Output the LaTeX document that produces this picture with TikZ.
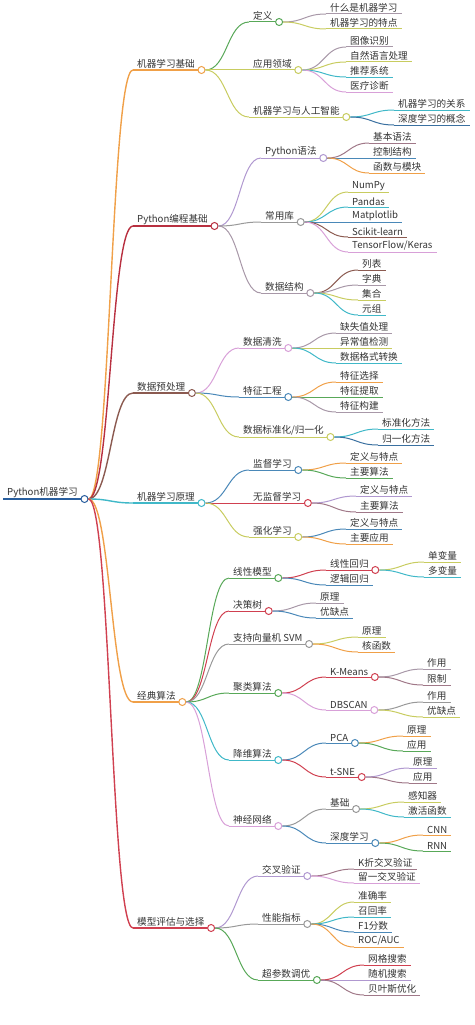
\documentclass[tikz,border=0pt]{standalone}
\usepackage{fontspec}
\setmainfont{Noto Sans CJK SC}
\usetikzlibrary{calc}
% Farben
\definecolor{txt}{HTML}{333333}
\definecolor{wurzel}{HTML}{2A5F9E}
\definecolor{orng}{HTML}{F0A048}
\definecolor{dred}{HTML}{B83040}
\definecolor{rot}{HTML}{D04050}
\definecolor{brwn}{HTML}{8B5A50}
\definecolor{cyan}{HTML}{40B8C8}
\definecolor{grn}{HTML}{58A858}
\definecolor{ylw}{HTML}{C8CC60}
\definecolor{gpur}{HTML}{A898A8}
\definecolor{blau}{HTML}{4A88B8}
\definecolor{dblu}{HTML}{3A70A0}
\definecolor{purp}{HTML}{B098D0}
\definecolor{pink}{HTML}{D8A0D8}
\definecolor{grau}{HTML}{999999}
\definecolor{mauv}{HTML}{A07888}
\tikzset{
  thema/.style={anchor=south west, inner xsep=4pt, inner ysep=1.2pt, text=txt,
    font=\fontsize{9.6}{11}\selectfont},
  linie/.style={line width=1pt},
  haupt/.style={line width=1.4pt},
  knopf/.style={circle, draw=#1, fill=white, line width=1pt, minimum size=7pt, inner sep=0pt}
}
% #1 Elternknoten, #2 Name, #3 x (Textanfang), #4 y, #5 Farbe, #6 Text
\newcommand{\zweig}[6]{%
  \node[thema] (#2) at ({#3-4},#4) {#6};
  \draw[linie, #5] (#2.south west) -- (#2.south east);
  \draw[linie, #5] let \p1=(#1-k.east), \p2=(#2.south west) in
    (\p1) .. controls ({(\x1+\x2)/2},\y1) and ({(\x1+\x2)/2},\y2) .. (\p2);
}
\newcommand{\knopf}[2]{\node[knopf=#2] (#1-k) at ([xshift=2.5pt]#1.south east) {};}
\begin{document}
\begin{tikzpicture}[x=1pt, y=-1pt]
  \useasboundingbox (0,0) rectangle (474,1025);
  % Wurzel
  \node[thema] (root) at (3,499) {Python机器学习};
  \draw[wurzel, line width=2.5pt] (root.south west) -- (root.south east);
  \knopf{root}{wurzel}
  % Hauptaeste
  \zweig{root}{A}{137}{70}{orng,haupt}{机器学习基础}\knopf{A}{orng}
  \zweig{root}{B}{137}{226}{dred,haupt}{Python编程基础}\knopf{B}{dred}
  \zweig{root}{C}{137}{393}{brwn,haupt}{数据预处理}\knopf{C}{brwn}
  \zweig{root}{D}{137}{503}{cyan,haupt}{机器学习原理}\knopf{D}{cyan}
  \zweig{root}{E}{137}{702}{orng,haupt}{经典算法}\knopf{E}{orng}
  \zweig{root}{F}{137}{928}{rot,haupt}{模型评估与选择}\knopf{F}{rot}
  % Maschinelles Lernen Grundlagen
  \zweig{A}{A1}{253}{22}{grn}{定义}\knopf{A1}{grn}
  \zweig{A}{A2}{253}{70}{ylw}{应用领域}\knopf{A2}{ylw}
  \zweig{A}{A3}{253}{117}{ylw}{机器学习与人工智能}\knopf{A3}{ylw}
  \zweig{A1}{A1a}{330}{14}{gpur}{什么是机器学习}
  \zweig{A1}{A1b}{330}{29}{ylw}{机器学习的特点}
  \zweig{A2}{A2a}{350}{47}{gpur}{图像识别}
  \zweig{A2}{A2b}{350}{62}{ylw}{自然语言处理}
  \zweig{A2}{A2c}{350}{77}{cyan}{推荐系统}
  \zweig{A2}{A2d}{350}{92}{pink}{医疗诊断}
  \zweig{A3}{A3a}{398}{110}{cyan}{机器学习的关系}
  \zweig{A3}{A3b}{398}{125}{dblu}{深度学习的概念}
  % Python Grundlagen
  \zweig{B}{B1}{265}{158}{purp}{Python语法}\knopf{B1}{purp}
  \zweig{B}{B2}{265}{222}{grau}{常用库}\knopf{B2}{grau}
  \zweig{B}{B3}{265}{293}{gpur}{数据结构}\knopf{B3}{gpur}
  \zweig{B1}{B1a}{373}{143}{mauv}{基本语法}
  \zweig{B1}{B1b}{373}{158}{blau}{控制结构}
  \zweig{B1}{B1c}{373}{173}{orng}{函数与模块}
  \zweig{B2}{B2a}{352}{192}{ylw}{NumPy}
  \zweig{B2}{B2b}{352}{207}{cyan}{Pandas}
  \zweig{B2}{B2c}{352}{222}{blau}{Matplotlib}
  \zweig{B2}{B2d}{352}{237}{brwn}{Scikit-learn}
  \zweig{B2}{B2e}{352}{252}{pink}{TensorFlow/Keras}
  \zweig{B3}{B3a}{362}{270}{brwn}{列表}
  \zweig{B3}{B3b}{362}{285}{gpur}{字典}
  \zweig{B3}{B3c}{362}{300}{ylw}{集合}
  \zweig{B3}{B3d}{362}{315}{cyan}{元组}
  % Datenvorverarbeitung
  \zweig{C}{C1}{243}{348}{pink}{数据清洗}\knopf{C1}{pink}
  \zweig{C}{C2}{243}{397}{blau}{特征工程}\knopf{C2}{blau}
  \zweig{C}{C3}{243}{437}{ylw}{数据标准化/归一化}\knopf{C3}{ylw}
  \zweig{C1}{C1a}{340}{333}{gpur}{缺失值处理}
  \zweig{C1}{C1b}{340}{348}{ylw}{异常值检测}
  \zweig{C1}{C1c}{340}{363}{cyan}{数据格式转换}
  \zweig{C2}{C2a}{340}{382}{orng}{特征选择}
  \zweig{C2}{C2b}{340}{397}{grn}{特征提取}
  \zweig{C2}{C2c}{340}{412}{gpur}{特征构建}
  \zweig{C3}{C3a}{382}{429}{cyan}{标准化方法}
  \zweig{C3}{C3b}{382}{445}{dblu}{归一化方法}
  % Prinzipien
  \zweig{D}{D1}{253}{470}{blau}{监督学习}\knopf{D1}{blau}
  \zweig{D}{D2}{253}{503}{rot}{无监督学习}\knopf{D2}{rot}
  \zweig{D}{D3}{253}{537}{ylw}{强化学习}\knopf{D3}{ylw}
  \zweig{D1}{D1a}{350}{463}{orng}{定义与特点}
  \zweig{D1}{D1b}{350}{478}{grn}{主要算法}
  \zweig{D2}{D2a}{360}{496}{purp}{定义与特点}
  \zweig{D2}{D2b}{360}{512}{mauv}{主要算法}
  \zweig{D3}{D3a}{350}{529}{blau}{定义与特点}
  \zweig{D3}{D3b}{350}{544}{orng}{主要应用}
  % Klassische Algorithmen
  \zweig{E}{E1}{233}{578}{grn}{线性模型}\knopf{E1}{grn}
  \zweig{E}{E2}{233}{611}{rot}{决策树}\knopf{E2}{rot}
  \zweig{E}{E3}{233}{644}{grau}{支持向量机 SVM}\knopf{E3}{grau}
  \zweig{E}{E4}{233}{693}{grn}{聚类算法}\knopf{E4}{grn}
  \zweig{E}{E5}{233}{760}{cyan}{降维算法}\knopf{E5}{cyan}
  \zweig{E}{E6}{233}{826}{pink}{神经网络}\knopf{E6}{pink}
  \zweig{E1}{E1a}{330}{570}{rot}{线性回归}\knopf{E1a}{rot}
  \zweig{E1}{E1b}{330}{585}{blau}{逻辑回归}
  \zweig{E1a}{E1a1}{428}{562}{ylw}{单变量}
  \zweig{E1a}{E1a2}{428}{577}{cyan}{多变量}
  \zweig{E2}{E2a}{320}{603}{gpur}{原理}
  \zweig{E2}{E2b}{320}{618}{blau}{优缺点}
  \zweig{E3}{E3a}{362}{637}{ylw}{原理}
  \zweig{E3}{E3b}{362}{652}{orng}{核函数}
  \zweig{E4}{E4a}{330}{677}{rot}{K-Means}\knopf{E4a}{rot}
  \zweig{E4}{E4b}{330}{710}{pink}{DBSCAN}\knopf{E4b}{pink}
  \zweig{E4a}{E4a1}{427}{669}{gpur}{作用}
  \zweig{E4a}{E4a2}{427}{685}{mauv}{限制}
  \zweig{E4b}{E4b1}{427}{702}{grau}{作用}
  \zweig{E4b}{E4b2}{427}{717}{ylw}{优缺点}
  \zweig{E5}{E5a}{330}{743}{blau}{PCA}\knopf{E5a}{blau}
  \zweig{E5}{E5b}{330}{777}{rot}{t-SNE}\knopf{E5b}{rot}
  \zweig{E5a}{E5a1}{407}{736}{orng}{原理}
  \zweig{E5a}{E5a2}{407}{751}{grn}{应用}
  \zweig{E5b}{E5b1}{413}{768}{purp}{原理}
  \zweig{E5b}{E5b2}{413}{783}{mauv}{应用}
  \zweig{E6}{E6a}{330}{809}{grau}{基础}\knopf{E6a}{grau}
  \zweig{E6}{E6b}{330}{843}{blau}{深度学习}\knopf{E6b}{blau}
  \zweig{E6a}{E6a1}{408}{802}{ylw}{感知器}
  \zweig{E6a}{E6a2}{408}{817}{cyan}{激活函数}
  \zweig{E6b}{E6b1}{427}{835}{orng}{CNN}
  \zweig{E6b}{E6b2}{427}{851}{grn}{RNN}
  % Modellbewertung
  \zweig{F}{F1}{262}{876}{purp}{交叉验证}\knopf{F1}{purp}
  \zweig{F}{F2}{262}{924}{grau}{性能指标}\knopf{F2}{grau}
  \zweig{F}{F3}{262}{980}{grn}{超参数调优}\knopf{F3}{grn}
  \zweig{F1}{F1a}{358}{869}{mauv}{K折交叉验证}
  \zweig{F1}{F1b}{358}{883}{pink}{留一交叉验证}
  \zweig{F2}{F2a}{358}{902}{ylw}{准确率}
  \zweig{F2}{F2b}{358}{917}{cyan}{召回率}
  \zweig{F2}{F2c}{358}{932}{blau}{F1分数}
  \zweig{F2}{F2d}{358}{947}{orng}{ROC/AUC}
  \zweig{F3}{F3a}{368}{965}{rot}{网格搜索}
  \zweig{F3}{F3b}{368}{980}{purp}{随机搜索}
  \zweig{F3}{F3c}{368}{995}{mauv}{贝叶斯优化}
\end{tikzpicture}
\end{document}
